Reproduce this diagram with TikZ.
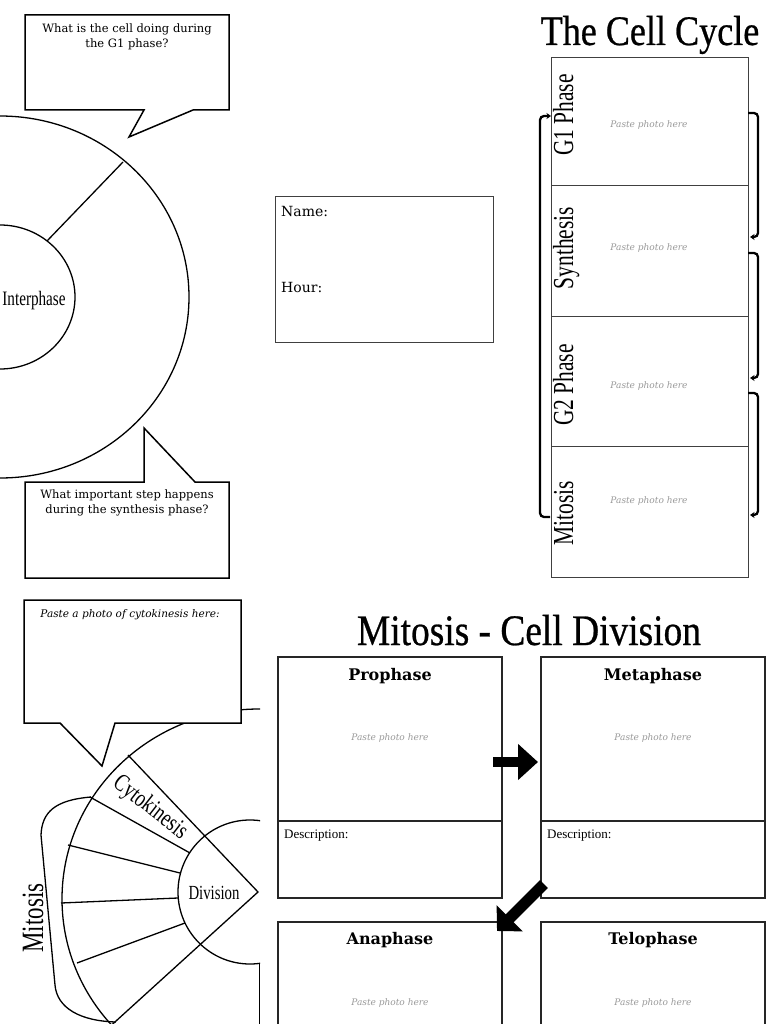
\documentclass[tikz,border=0pt]{standalone}
\usepackage{fontspec}
\usetikzlibrary{arrows.meta,calc}
\setmainfont{Liberation Serif}
\newfontfamily\tnr{Liberation Serif}
\newfontfamily\tnrT[FakeStretch=0.86,FakeBold=0.6]{Liberation Serif}
\newfontfamily\tnrN[FakeStretch=0.74]{Liberation Serif}
\newfontfamily\cam{DejaVu Serif}
\definecolor{ph}{HTML}{999999}
\definecolor{tab}{HTML}{404040}
\begin{document}
\begin{tikzpicture}[x=1pt,y=-1pt,
  callout/.style={draw=black, line width=1.5pt, fill=white, line join=miter},
  cellrow/.style={draw=tab, line width=0.8pt, rectangle, inner sep=0pt, outer sep=0pt, anchor=north west, minimum width=197pt},
  phbox/.style={draw=black!85, line width=1.3pt, rectangle, inner sep=0pt, outer sep=0pt, anchor=north west, minimum width=224pt},
  shapeline/.style={draw=black, line width=1.3pt},
  paste/.style={font=\cam\itshape\fontsize{9}{10}\selectfont, text=ph, inner sep=0pt, anchor=base},
  head/.style={font=\cam\bfseries\fontsize{16}{18}\selectfont, inner sep=0pt, anchor=base},
  desc/.style={font=\tnr\fontsize{13}{14}\selectfont, inner sep=0pt, anchor=base west},
  vlabel/.style={font=\tnrN\fontsize{29}{32}\selectfont, inner sep=0pt, anchor=base, rotate=90},
  ask/.style={font=\cam\fontsize{11.5}{15}\selectfont, inner sep=0pt, align=center, anchor=north},
  bracket/.style={line width=2.3pt, rounded corners=4pt, -{Stealth[length=4.5pt,width=6pt]}},
  bigarrow/.style={line width=10.5pt, -{Triangle[length=20pt,width=35pt]}},
  bigarrowb/.style={line width=11pt, -{Triangle[length=18pt,width=36pt]}}
]
\useasboundingbox (0,0) rectangle (768,1024);
\fill[white] (0,0) rectangle (768,1024);

% ---------- Interphase (top left) ----------
\begin{scope}
\clip (0,0) rectangle (768,1024);
\draw[shapeline] (0,297) ellipse [x radius=189, y radius=181];
\draw[shapeline] (0,297) ellipse [x radius=75, y radius=72];
\draw[shapeline] (47,241) -- (123,162);
\end{scope}
\node[font=\tnrN\fontsize{20.5}{24}\selectfont, inner sep=0pt, anchor=base] (inter) at (34,305) {Interphase};

\draw[callout] (25,15) -- (229,15) -- (229,110) -- (193,110) -- (129,137) -- (144,110) -- (25,110) -- cycle;
\node[ask] (q1) at (127,24) {What is the cell doing during\\the G1 phase?};

\draw[callout] (25,482) -- (144,482) -- (144,428) -- (195,482) -- (229,482) -- (229,578) -- (25,578) -- cycle;
\node[ask] (q2) at (127,490) {What important step happens\\during the synthesis phase?};

% ---------- Name box ----------
\node[draw=tab, line width=1pt, rectangle, anchor=north west, inner sep=0pt, minimum width=218pt, minimum height=146pt] (namebox) at (275,196) {};
\node[font=\cam\fontsize{14}{16}\selectfont, inner sep=0pt, anchor=base west] (name) at (281,217) {Name:};
\node[font=\cam\fontsize{14}{16}\selectfont, inner sep=0pt, anchor=base west] (hour) at (281,292) {Hour:};

% ---------- The Cell Cycle ----------
\node[font=\tnrT\fontsize{42}{48}\selectfont, inner sep=0pt, anchor=base] (cctitle) at (650,45) {The Cell Cycle};
\node[cellrow, minimum height=128pt] (g1) at (551,57) {};
\node[cellrow, minimum height=131pt] (syn) at (551,185) {};
\node[cellrow, minimum height=130pt] (g2) at (551,316) {};
\node[cellrow, minimum height=131pt] (mit) at (551,446) {};
\node[vlabel] (g1l) at (573,115) {G1 Phase};
\node[vlabel] (synl) at (573,248) {Synthesis};
\node[vlabel] (g2l) at (573,385) {G2 Phase};
\node[vlabel] (mitl) at (573,513) {Mitosis};
\node[paste] (p1) at (649,128) {Paste photo here};
\node[paste] (p2) at (649,251) {Paste photo here};
\node[paste] (p3) at (649,388) {Paste photo here};
\node[paste] (p4) at (649,503) {Paste photo here};
\draw[bracket] ($(g1.north east)+(0,56)$) -- ++(10,0) |- ($(syn.north east)+(2,52)$);
\draw[bracket] ($(syn.north east)+(0,68)$) -- ++(10,0) |- ($(g2.north east)+(2,62)$);
\draw[bracket] ($(g2.north east)+(0,77)$) -- ++(10,0) |- ($(mit.north east)+(2,69)$);
\draw[bracket] ($(mit.north west)+(-1,71)$) -- ++(-10,0) |- ($(g1.north west)+(0,59)$);

% ---------- Mitosis fan (bottom left) ----------
\begin{scope}
\clip (0,585) rectangle (260,1024);
\draw[shapeline] (259,899) ellipse [x radius=197, y radius=190];
\draw[shapeline] (90,797) -- (190,853);
\draw[shapeline] (68,845) -- (180,873);
\draw[shapeline] (61,903) -- (178,898);
\draw[shapeline] (77,963) -- (185,923);
\draw[shapeline, fill=white] (250,892) circle [radius=72];
\draw[shapeline] (128,755) -- (258,892) -- (105,1031);
\draw[shapeline] (91,797) .. controls (55,800) and (42,812) .. (41,835) -- (55,985) .. controls (57,1008) and (80,1021) .. (116,1022);
\draw[shapeline] (259.3,963) -- (259.3,1030);
\draw[callout] (24,600) -- (241,600) -- (241,723) -- (115,723) -- (102,766) -- (60,723) -- (24,723) -- cycle;
\end{scope}
\node[font=\cam\itshape\fontsize{10.5}{12}\selectfont, inner sep=0pt, anchor=base] (q3) at (130,617) {Paste a photo of cytokinesis here:};
\node[font=\tnrN\fontsize{25}{28}\selectfont, inner sep=0pt, rotate=-38] (cyto) at (150,808) {Cytokinesis};
\node[font=\tnrN\fontsize{20}{24}\selectfont, inner sep=0pt, anchor=base] (divi) at (214,899) {Division};
\node[font=\tnrN\fontsize{31}{34}\selectfont, inner sep=0pt, anchor=base, rotate=90] (mitside) at (43,918) {Mitosis};

% ---------- Mitosis - Cell Division ----------
\node[font=\tnrT\fontsize{43.5}{48}\selectfont, inner sep=0pt, anchor=base] (mtitle) at (529,645) {Mitosis - Cell Division};
\node[phbox, minimum height=164pt] (pro) at (278,657) {};
\node[phbox, minimum height=77pt] (prod) at (278,821) {};
\node[phbox, minimum height=164pt] (met) at (541,657) {};
\node[phbox, minimum height=77pt] (metd) at (541,821) {};
\node[phbox, minimum height=164pt] (ana) at (278,922) {};
\node[phbox, minimum height=164pt] (tel) at (541,922) {};
\foreach \b/\t in {pro/Prophase, met/Metaphase}{
  \node[head] (\b h) at ($(\b.north)+(0,23)$) {\t};
  \node[paste] (\b p) at ($(\b.north)+(0,83)$) {Paste photo here};
  \node[desc] (\b dl) at ($(\b d.north west)+(6,17)$) {Description:};
}
\foreach \b/\t in {ana/Anaphase, tel/Telophase}{
  \node[head] (\b h) at ($(\b.north)+(0,22)$) {\t};
  \node[paste] (\b p) at ($(\b.north)+(0,83)$) {Paste photo here};
}
\coordinate (a1s) at (493,762);
\coordinate (a1e) at (538,762);
\draw[bigarrow] (a1s) -- (a1e);
\coordinate (a2s) at (544,884);
\coordinate (a2e) at (497,931);
\draw[bigarrowb] (a2s) -- (a2e);
\end{tikzpicture}
\end{document}
